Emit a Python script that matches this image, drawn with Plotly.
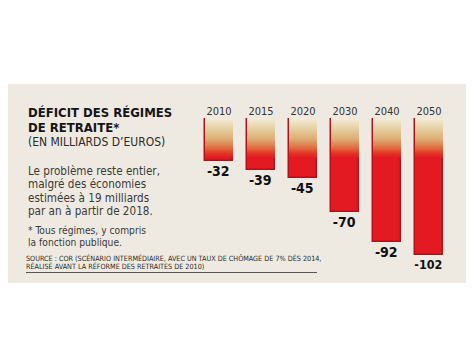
import plotly.graph_objects as go

years = ["2010", "2015", "2020", "2030", "2040", "2050"]
deficits = [-32, -39, -45, -70, -92, -102]
value_labels = ["-32", "-39", "-45", "-70", "-92", "-102"]

title_lines = ["DÉFICIT DES RÉGIMES", "DE RETRAITE*"]
subtitle = "(EN MILLIARDS D’EUROS)"
body_lines = ["Le problème reste entier,", "malgré des économies",
              "estimées à 19 milliards", "par an à partir de 2018."]
foot_lines = ["* Tous régimes, y compris", "la fonction publique."]
source_lines = ["SOURCE : COR (SCÉNARIO INTERMÉDIAIRE, AVEC UN TAUX DE CHÔMAGE DE 7% DÈS 2014,",
                "RÉALISÉ AVANT LA RÉFORME DES RETRAITES DE 2010)"]

# page body has an 8px margin: work in page pixels and convert
OFF = 8
W, H = 474 - OFF, 355 - OFF
COND = "DejaVu Sans Condensed, Liberation Sans Narrow, Arial Narrow, sans-serif"
RED = "#e41a22"


def px(xp):
    return (xp - OFF) / W


def py(yp):
    return (H - (yp - OFF)) / H


# gradient (styling) stops: fraction of gradient depth -> rgb
grad_stops = [(0.0, (243, 237, 220)), (0.3, (229, 206, 160)), (0.55, (221, 170, 114)),
              (0.75, (224, 112, 66)), (0.9, (226, 52, 36)), (1.0, (228, 26, 34))]
GRAD_DEPTH = 30
N_STEPS = 40


def grad_color(t):
    for (t0, c0), (t1, c1) in zip(grad_stops[:-1], grad_stops[1:]):
        if t <= t1:
            f = (t - t0) / (t1 - t0) if t1 > t0 else 0
            c = [round(a + (b - a) * f) for a, b in zip(c0, c1)]
            return "rgb(%d,%d,%d)" % tuple(c)
    return "rgb(%d,%d,%d)" % grad_stops[-1][1]


xs = list(range(len(years)))
BW = 0.69

fig = go.Figure()
fig.add_trace(go.Bar(
    x=xs, y=deficits, width=BW, marker=dict(color=RED, line=dict(color="#b5101a", width=1.5)),
    text=["<b>%s</b>" % t for t in value_labels], textposition="outside", cliponaxis=False,
    textfont=dict(family=COND, size=14, color="#111111"),
    hoverinfo="skip", showlegend=False))

for k in range(N_STEPS):
    t = 1 - k / N_STEPS
    d = GRAD_DEPTH * t
    fig.add_trace(go.Bar(
        x=xs, y=[-min(d, abs(v)) for v in deficits], width=BW,
        marker=dict(color=grad_color(t), line=dict(width=0)),
        hoverinfo="skip", showlegend=False))

# geometry (page pixels): bar centers 219..429, zero line at y=118, 1.343 px per unit
x0_px, x5_px = 219, 429
ppu = (x5_px - x0_px) / 5
y_zero = 118
yscale = 1.343
ymin = -120
y_bottom_px = y_zero - ymin * yscale

fig.update_layout(
    width=W, height=H, margin=dict(l=0, r=0, t=0, b=0),
    paper_bgcolor="white", plot_bgcolor="rgba(0,0,0,0)",
    barmode="overlay", bargap=0,
    xaxis=dict(domain=[px(x0_px - 0.5 * ppu), px(x5_px + 0.5 * ppu)], range=[-0.5, 5.5], side="top",
               tickmode="array", tickvals=xs, ticktext=years, ticks="",
               tickfont=dict(family=COND, size=11, color="#333333"),
               showgrid=False, zeroline=False, showline=False, fixedrange=True),
    yaxis=dict(domain=[py(y_bottom_px), py(y_zero)], range=[ymin, 0], visible=False,
               showgrid=False, zeroline=False, fixedrange=True),
)

# panel
fig.add_shape(type="rect", xref="paper", yref="paper", layer="below",
              x0=px(5), x1=px(467), y0=py(283), y1=py(84),
              fillcolor="#efeae1", line=dict(width=0))


def ann(text, x_px, y_px, size, color, bold=False, family=COND):
    fig.add_annotation(xref="paper", yref="paper", x=px(x_px), y=py(y_px),
                       xanchor="left", yanchor="middle", showarrow=False,
                       text=("<b>%s</b>" % text) if bold else text,
                       font=dict(family=family, size=size, color=color))


ann(title_lines[0], 26, 112, 13, "#151515", bold=True)
ann(title_lines[1], 26, 127, 13, "#151515", bold=True)
ann(subtitle, 26, 142, 12, "#2a2a2a")
for i, line in enumerate(body_lines):
    ann(line, 26, 171 + i * 13.4, 11.6, "#3a3a3a")
for i, line in enumerate(foot_lines):
    ann(line, 26, 231 + i * 11.5, 10.2, "#3a3a3a")
for i, line in enumerate(source_lines):
    ann(line, 24, 258 + i * 8.5, 7.2, "#2a2a2a")

fig.add_shape(type="line", xref="paper", yref="paper",
              x0=px(26), x1=px(317), y0=py(272.5), y1=py(272.5),
              line=dict(color="#555555", width=1))

fig.write_html("out.html")
